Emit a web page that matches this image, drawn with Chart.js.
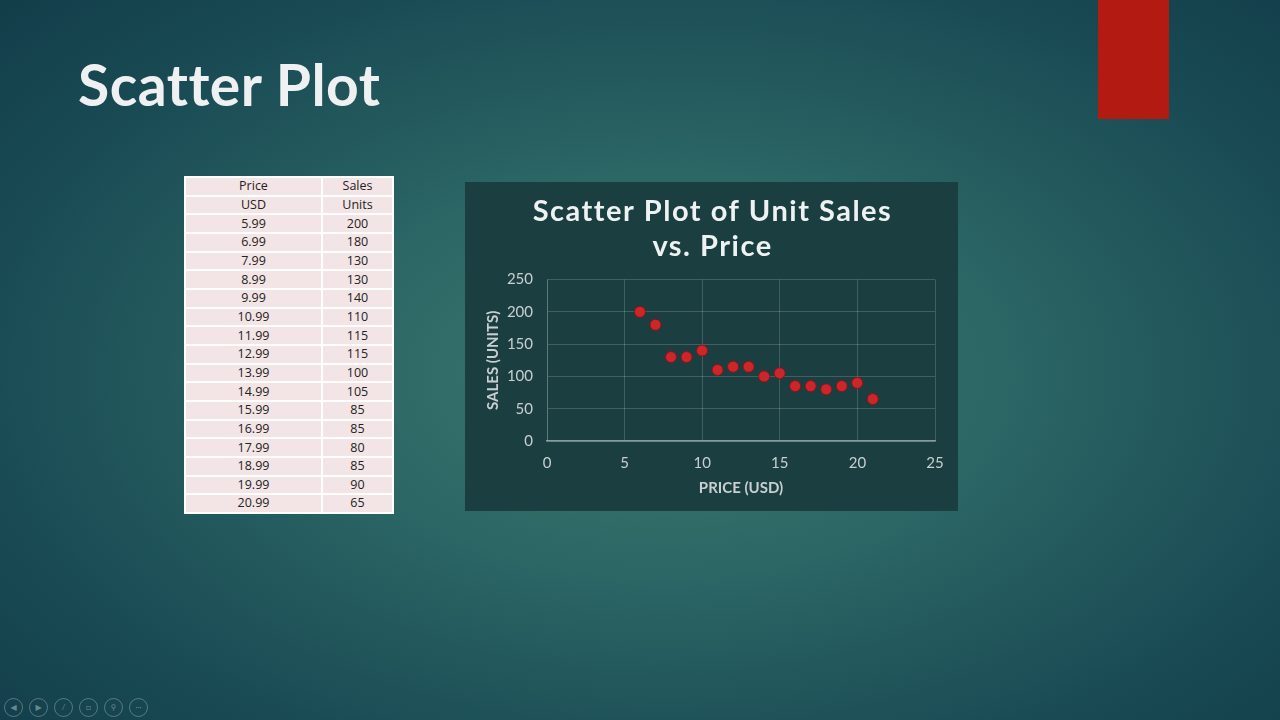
<!DOCTYPE html>
<html>
<head>
<meta charset="utf-8">
<script src="https://cdn.jsdelivr.net/npm/chart.js@4.4.0/dist/chart.umd.min.js"></script>
<style>
  html, body { margin: 0; padding: 0; }
  body {
    width: 1280px; height: 720px; overflow: hidden; position: relative;
    background: radial-gradient(ellipse 75% 80% at 52% 52%, #3c7a71 0%, #2c6665 35%, #1a4c55 70%, #103a47 100%);
    font-family: "Lato", "DejaVu Sans", sans-serif;
  }
  #slideTitle {
    position: absolute; left: 78px; top: 50px; margin: 0;
    font-family: "Lato", sans-serif; font-weight: 700; font-size: 57px;
    color: #eef0f2; letter-spacing: 0.5px;
  }
  #redBar { position: absolute; left: 1098px; top: 0; width: 71px; height: 119px; background: #b21a12; }
  #tbl {
    position: absolute; left: 184px; top: 176px; width: 210px;
    border-collapse: collapse; background: #f3e5e5;
    font-family: "Open Sans", sans-serif; font-size: 12.5px; color: #222;
  }
  #tbl td { height: 16.67px; padding: 0; text-align: center; border: 2px solid #fff; line-height: 14px; }
  #tbl td:first-child { width: 135px; }
  #chartBox { position: absolute; left: 465px; top: 182px; width: 493px; height: 329px; background: #1b3e41; }
  #icons { position: absolute; left: 4px; top: 698px; }
  #icons span {
    display: inline-block; width: 17px; height: 17px; border-radius: 50%;
    border: 1px solid rgba(200,220,225,0.35); margin-right: 6px;
    color: rgba(210,225,230,0.45); font-size: 8px; line-height: 17px; text-align: center;
    vertical-align: top;
  }
</style>
</head>
<body>
<div id="slideTitle">Scatter Plot</div>
<div id="redBar"></div>
<table id="tbl"></table>
<div id="chartBox"><canvas id="c" width="493" height="329"></canvas></div>
<div id="icons"><span>&#9664;</span><span>&#9654;</span><span>/</span><span>&#9633;</span><span>&#9906;</span><span>&middot;&middot;&middot;</span></div>
<script>
// data from the table
const prices = [5.99, 6.99, 7.99, 8.99, 9.99, 10.99, 11.99, 12.99, 13.99, 14.99, 15.99, 16.99, 17.99, 18.99, 19.99, 20.99];
const sales = [200, 180, 130, 130, 140, 110, 115, 115, 100, 105, 85, 85, 80, 85, 90, 65];
const headerTop = ['Price', 'Sales'];
const headerUnits = ['USD', 'Units'];

// fill the table
const tbl = document.getElementById('tbl');
let rows = '<tr><td>' + headerTop[0] + '</td><td>' + headerTop[1] + '</td></tr>';
rows += '<tr><td>' + headerUnits[0] + '</td><td>' + headerUnits[1] + '</td></tr>';
prices.forEach((p, i) => {
    rows += '<tr><td>' + p.toFixed(2) + '</td><td>' + sales[i] + '</td></tr>';
});
tbl.innerHTML = rows;

const points = prices.map((p, i) => ({ x: p, y: sales[i] }));
const tickColor = '#c9cfd0';
const gridColor = 'rgba(200,215,215,0.22)';

// wider title: letter spacing, and centred on the whole box
const titleSpacing = {
    id: 'titleSpacing',
    beforeDraw(chart) {
        const tb = chart.titleBlock;
        if (tb && !tb._spaced) {
            const orig = tb.draw.bind(tb);
            tb.draw = (area) => {
                const ctx = chart.ctx;
                ctx.save();
                ctx.letterSpacing = '1.5px';
                ctx.translate(12.5, 0);
                orig(area);
                ctx.restore();
            };
            tb._spaced = true;
        }
    }
};

new Chart(document.getElementById('c'), {
    type: 'scatter',
    data: {
        datasets: [{
            data: points,
            backgroundColor: '#cc262b',
            borderColor: '#8e1418',
            borderWidth: 1,
            pointRadius: 5.5,
            pointHoverRadius: 5.5
        }]
    },
    options: {
        responsive: false,
        animation: false,
        layout: { padding: { left: 0, right: 23, top: 0, bottom: 6 } },
        plugins: {
            legend: { display: false },
            tooltip: { enabled: false },
            title: {
                display: true,
                text: ['Scatter Plot of Unit Sales', 'vs. Price'],
                color: '#eef2f2',
                font: { family: 'Lato', size: 29, weight: 'bold' },
                lineHeight: 1.2,
                padding: { top: 12, bottom: 16 }
            }
        },
        scales: {
            x: {
                type: 'linear',
                min: 0, max: 25,
                ticks: { stepSize: 5, color: tickColor, font: { family: 'Lato', size: 15 }, padding: 13 },
                grid: { color: gridColor, drawTicks: false },
                border: { color: 'rgba(210,220,220,0.6)', width: 1.5 },
                title: { display: true, text: 'PRICE (USD)', color: tickColor, font: { family: 'Lato', size: 15, weight: 'bold' }, padding: { top: 4, bottom: 8 } },
                afterFit: (s) => { s.height = 64; }
            },
            y: {
                min: 0, max: 250,
                ticks: { stepSize: 50, color: tickColor, font: { family: 'Lato', size: 15 }, padding: 14 },
                grid: { color: gridColor, drawTicks: false },
                border: { color: gridColor },
                title: { display: true, text: 'SALES (UNITS)', color: tickColor, font: { family: 'Lato', size: 15, weight: 'bold' }, padding: { top: 19, bottom: 0 } },
                afterFit: (s) => { s.width = 82; }
            }
        }
    },
    plugins: [titleSpacing]
});
</script>
</body>
</html>
